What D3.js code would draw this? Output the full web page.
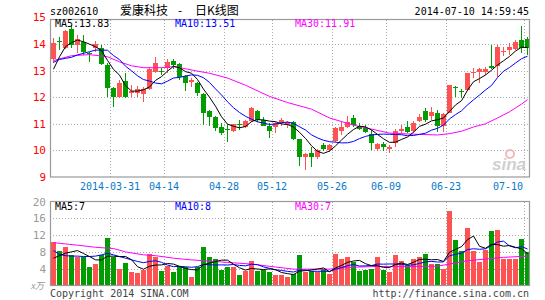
<html>
<head>
<meta charset="utf-8">
<title>sz002610 日K线图</title>
<script src="https://d3js.org/d3.v7.min.js"></script>
<style>
	body { margin: 0; background: #fff; }
	text { font-family: "DejaVu Sans Mono", monospace; }
</style>
</head>
<body>
<svg id="chart" width="545" height="300"></svg>
<script>
// trading days shown in the chart
var dates = ["03-17","03-18","03-19","03-20","03-21","03-24","03-25","03-26","03-27","03-28",
	"03-31","04-01","04-02","04-03","04-04","04-08","04-09","04-10","04-11",
	"04-14","04-15","04-16","04-17","04-18","04-21","04-22","04-23","04-24","04-25",
	"04-28","04-29","04-30","05-05","05-06","05-07","05-08","05-09",
	"05-12","05-13","05-14","05-15","05-16","05-19","05-20","05-21","05-22","05-23",
	"05-26","05-27","05-28","05-29","05-30","06-03","06-04","06-05","06-06",
	"06-09","06-10","06-11","06-12","06-13","06-16","06-17","06-18","06-19","06-20",
	"06-23","06-24","06-25","06-26","06-27","06-30","07-01","07-02","07-03","07-04",
	"07-07","07-08","07-09","07-10"];

var open = [13.42,14.10,13.84,14.55,13.96,14.06,13.67,13.84,13.84,13.21,
	12.33,12.02,12.61,12.15,12.17,12.12,12.30,12.96,12.98,13.09,
	13.36,13.25,12.80,12.58,12.52,12.12,11.48,11.27,10.87,10.79,
	10.73,11.00,10.89,11.11,11.48,11.14,10.92,10.89,11.02,10.95,
	11.06,10.43,9.76,9.89,9.76,10.20,10.01,10.35,10.73,10.89,
	11.20,10.93,10.83,10.62,10.04,10.24,10.04,10.27,10.73,10.89,
	10.72,11.12,11.49,11.30,11.39,10.92,11.42,12.40,12.25,12.27,
	12.90,12.96,12.96,13.19,13.19,13.69,13.77,13.81,14.15,14.19];
var high = [14.21,14.27,14.52,14.71,14.34,14.34,13.71,14.12,13.96,13.27,
	12.39,12.65,12.90,12.46,12.42,12.39,13.15,13.50,13.11,13.44,
	13.44,13.30,12.85,12.71,12.58,12.15,11.52,11.30,11.02,10.98,
	11.01,11.14,11.14,11.64,11.52,11.24,11.02,11.08,11.20,11.12,
	11.11,10.43,9.89,10.12,10.07,10.29,10.24,10.89,11.08,11.31,
	11.33,11.02,10.95,10.77,10.29,10.33,10.20,10.79,10.96,11.10,
	11.10,11.35,11.58,11.64,11.52,11.39,12.46,12.42,12.30,12.90,
	13.09,13.11,13.15,13.96,13.96,13.90,14.04,14.15,14.68,14.27];
var low = [13.27,13.77,13.80,13.84,13.65,13.59,13.33,13.71,13.21,12.02,
	11.62,11.96,11.96,12.02,12.02,11.83,12.27,12.90,12.83,12.90,
	13.05,12.65,12.24,12.37,12.05,10.95,10.92,10.73,10.58,10.33,
	10.70,10.77,10.83,11.08,11.05,10.90,10.48,10.67,10.90,10.85,
	10.40,9.41,9.27,9.39,9.66,9.99,9.93,10.32,10.58,10.85,
	10.89,10.77,10.64,10.02,9.99,9.96,9.92,10.12,10.64,10.64,
	10.64,11.08,11.08,11.14,10.70,10.70,11.39,12.02,11.96,12.24,
	12.71,12.52,12.84,13.05,12.77,13.55,13.59,13.77,13.65,13.59];
var close = [14.03,14.07,14.50,13.96,14.18,13.71,13.63,14.00,13.25,12.33,
	12.02,12.55,12.02,12.24,12.30,12.30,13.05,13.27,12.95,13.33,
	13.21,12.77,12.55,12.65,12.15,11.39,11.27,10.85,10.67,10.76,
	10.99,10.97,11.11,11.58,11.14,10.93,10.74,11.02,11.14,11.05,
	10.43,9.76,9.87,9.76,10.01,10.04,10.20,10.83,10.87,11.08,
	10.95,10.82,10.70,10.29,10.24,10.14,10.14,10.74,10.80,10.70,
	11.04,11.24,11.14,11.43,10.92,11.36,12.46,12.37,12.22,12.90,
	12.96,13.05,13.05,13.11,13.88,13.75,13.87,14.06,13.84,13.84];
// volume, 万手
var volume = [10.3,8.1,9.2,7.3,6.7,6.8,4.5,5.2,7.2,11.2,
	6.8,4.0,5.4,3.3,2.9,3.8,7.5,6.8,3.5,4.6,
	3.1,4.7,4.4,2.1,4.3,9.2,6.7,6.2,3.8,4.3,
	4.3,2.5,3.4,5.9,3.5,3.7,3.3,2.5,2.5,2.1,
	2.7,7.3,3.1,3.4,3.1,4.0,2.8,7.6,6.4,6.7,
	5.7,3.5,3.7,4.0,6.7,3.7,3.3,7.3,5.8,4.9,
	6.3,6.8,7.5,5.1,5.2,4.0,17.8,10.9,8.3,13.6,
	8.3,5.6,8.5,13.0,13.3,6.4,6.4,6.4,11.1,7.9];

// moving-average values before enough days are on screen
var ma5Head = [13.05,13.52,13.90,14.05];
var ma10Head = [13.31,13.42,13.46,13.50,13.59,13.65,13.71,13.77,13.77];
var ma30Pts = [[0,13.38],[3,13.56],[6,13.60],[9,13.52],[11,13.33],[13,13.18],[15,13.11],[18,13.11],
	[20,13.15],[22,13.07],[24,12.98],[26,12.90],[29,12.72],[32,12.45],[36,12.03],[39,11.80],
	[43,11.55],[46,11.22],[50,10.95],[53,10.80],[56,10.65],[60,10.61],[64,10.58],[66,10.63],
	[68,10.72],[70,10.88],[72,11.00],[74,11.22],[76,11.45],[78,11.74],[79,11.91]];
var vma5Head = [6.5,7.1,7.7,8.0];
var vma10Head = [8.3,7.4,7.1,7.0,7.0,6.9,6.9,7.0,7.3];
var vma30Pts = [[0,10.2],[2,9.9],[4,9.6],[7,9.1],[10,8.8],[12,8.0],[15,7.3],[17,7.1],[20,6.5],
	[23,6.1],[27,5.7],[30,5.4],[33,5.1],[37,4.4],[40,3.9],[46,3.9],[49,4.3],[53,4.5],[58,4.5],
	[64,4.6],[66,5.1],[69,5.9],[75,6.7],[79,7.0]];

var priceTicks = [9,10,11,12,13,14,15];
var volTicks = [4,8,12,16,20];
var dateTicks = ["03-31","04-14","04-28","05-12","05-26","06-09","06-23","07-10"];
var maLabels = ["MA5:13.83","MA10:13.51","MA30:11.91"];
var vmaLabels = ["MA5:7","MA10:8","MA30:7"];

var RED = "#ff5252", GREEN = "#009c00";
var maColors = ["#000000","#0000ff","#ff00ff"];

function movingAvg(arr, n, head) {
	return arr.map(function (v, i) {
		if (i < n - 1) return head[i];
		return d3.mean(arr.slice(i - n + 1, i + 1));
	});
}

var svg = d3.select("#chart");
var x = d3.scaleBand().domain(dates).range([50, 530]);
var yP = d3.scaleLinear().domain([9, 15]).range([177, 17.4]);
var yV = d3.scaleLinear().domain([0, 20]).range([285.5, 201.5]);

// header
svg.append("text").attr("x", 50).attr("y", 15).attr("font-size", 10).text("sz002610");
var cjk = "'Noto Sans CJK SC', sans-serif";
svg.append("text").attr("x", 120).attr("y", 15).attr("font-size", 12)
	.style("font-family", cjk).text("爱康科技");
svg.append("text").attr("x", 180).attr("y", 15).attr("font-size", 12)
	.attr("text-anchor", "middle").style("font-family", cjk).text("-");
svg.append("text").attr("x", 195).attr("y", 15).attr("font-size", 12)
	.style("font-family", cjk).text("日K线图");
svg.append("text").attr("x", 529).attr("y", 15).attr("font-size", 10)
	.attr("text-anchor", "end").text("2014-07-10 14:59:45");

function grid(y, ticks, yTop, yBot) {
	var g = svg.append("g").attr("stroke", "#aaa").attr("stroke-dasharray", "1,2");
	g.selectAll(".h").data(ticks).enter().append("line")
		.attr("x1", 50).attr("x2", 530)
		.attr("y1", function (d) { return Math.round(y(d)) + 0.5; })
		.attr("y2", function (d) { return Math.round(y(d)) + 0.5; });
	g.selectAll(".v").data(dateTicks).enter().append("line")
		.attr("x1", function (d) { return x(d) + 0.5; })
		.attr("x2", function (d) { return x(d) + 0.5; })
		.attr("y1", yTop).attr("y2", yBot);
}
grid(yP, [10, 11, 12, 13, 14], 20, 177);
grid(yV, [4, 8, 12, 16], 202, 285);

// price axis labels
svg.append("g").selectAll("text").data(priceTicks).enter().append("text")
	.attr("x", 46).attr("y", function (d) { return yP(d) + 4; })
	.attr("text-anchor", "end").attr("font-size", 11).attr("fill", "#f00")
	.text(function (d) { return d; });

// date labels
svg.append("g").selectAll("text").data(dateTicks).enter().append("text")
	.attr("x", function (d) { return Math.min(x(d), 508); })
	.attr("y", 190).attr("text-anchor", "middle").attr("font-size", 10).attr("fill", "#0a7ac8")
	.text(function (d, i) { return i == 0 ? "2014-" + d : d; });

// sina watermark
svg.append("circle").attr("cx", 510).attr("cy", 154).attr("r", 4)
	.attr("fill", "none").attr("stroke", "#f4b8b8").attr("stroke-width", 2);
svg.append("text").attr("x", 492).attr("y", 170).attr("font-size", 17)
	.attr("font-weight", "bold").attr("font-style", "italic").attr("fill", "#d0d0d0")
	.style("font-family", "'Liberation Sans', sans-serif").text("sina");

// candles
var candles = svg.append("g").selectAll("g").data(dates).enter().append("g")
	.attr("shape-rendering", "crispEdges");
function col(i) { return close[i] >= open[i] ? RED : GREEN; }
candles.append("line")
	.attr("x1", function (d) { return x(d) + 3.5; })
	.attr("x2", function (d) { return x(d) + 3.5; })
	.attr("y1", function (d, i) { return yP(high[i]); })
	.attr("y2", function (d, i) { return yP(low[i]); })
	.attr("stroke", function (d, i) { return col(i); });
candles.append("rect")
	.attr("x", function (d) { return x(d) + 1; })
	.attr("width", 5)
	.attr("y", function (d, i) { return yP(Math.max(open[i], close[i])); })
	.attr("height", function (d, i) { return Math.max(1, yP(Math.min(open[i], close[i])) - yP(Math.max(open[i], close[i]))); })
	.attr("fill", function (d, i) { return col(i); });

// volume bars
svg.append("g").attr("shape-rendering", "crispEdges")
	.selectAll("rect").data(dates).enter().append("rect")
	.attr("x", function (d) { return x(d) + 1; })
	.attr("width", 5)
	.attr("y", function (d, i) { return yV(volume[i]); })
	.attr("height", function (d, i) { return yV(0) - yV(volume[i]); })
	.attr("fill", function (d, i) { return col(i); });

// moving average lines
function drawLine(pts, y, color) {
	svg.append("path").datum(pts)
		.attr("fill", "none").attr("stroke", color).attr("stroke-width", 1)
		.attr("d", d3.line()
			.x(function (p) { return x(dates[p[0]]) + 3.5; })
			.y(function (p) { return y(p[1]); }));
}
function idx(arr) { return arr.map(function (v, i) { return [i, v]; }); }
drawLine(ma30Pts, yP, maColors[2]);
drawLine(idx(movingAvg(close, 10, ma10Head)), yP, maColors[1]);
drawLine(idx(movingAvg(close, 5, ma5Head)), yP, maColors[0]);
drawLine(vma30Pts, yV, maColors[2]);
drawLine(idx(movingAvg(volume, 10, vma10Head)), yV, maColors[1]);
drawLine(idx(movingAvg(volume, 5, vma5Head)), yV, maColors[0]);

// frames
svg.append("rect").attr("x", 50.5).attr("y", 19.5).attr("width", 479).attr("height", 157.5)
	.attr("fill", "none").attr("stroke", "#999").attr("stroke-width", 1.2);
svg.append("rect").attr("x", 50.5).attr("y", 201.5).attr("width", 479).attr("height", 84)
	.attr("fill", "none").attr("stroke", "#999").attr("stroke-width", 1.2);

// MA legends
var labX = [55, 175, 295];
maLabels.forEach(function (t, i) {
	svg.append("text").attr("x", labX[i]).attr("y", 27).attr("font-size", 10)
		.attr("fill", maColors[i]).text(t);
});
vmaLabels.forEach(function (t, i) {
	svg.append("text").attr("x", labX[i]).attr("y", 210).attr("font-size", 10)
		.attr("fill", maColors[i]).text(t);
});

// volume axis labels
svg.append("g").selectAll("text").data(volTicks).enter().append("text")
	.attr("x", 46).attr("y", function (d) { return yV(d) + 4; })
	.attr("text-anchor", "end").attr("font-size", 11).attr("fill", "#999")
	.text(function (d) { return d; });
svg.append("text").attr("x", 44).attr("y", 289).attr("text-anchor", "end")
	.attr("font-size", 9).attr("fill", "#999").attr("font-style", "italic")
	.style("font-family", cjk).text("x万");

// footer
svg.append("text").attr("x", 50).attr("y", 297).attr("font-size", 10).attr("fill", "#444")
	.text("Copyright 2014 SINA.COM");
svg.append("text").attr("x", 529).attr("y", 297).attr("font-size", 10).attr("fill", "#444")
	.attr("text-anchor", "end").text("http://finance.sina.com.cn");
</script>
</body>
</html>
